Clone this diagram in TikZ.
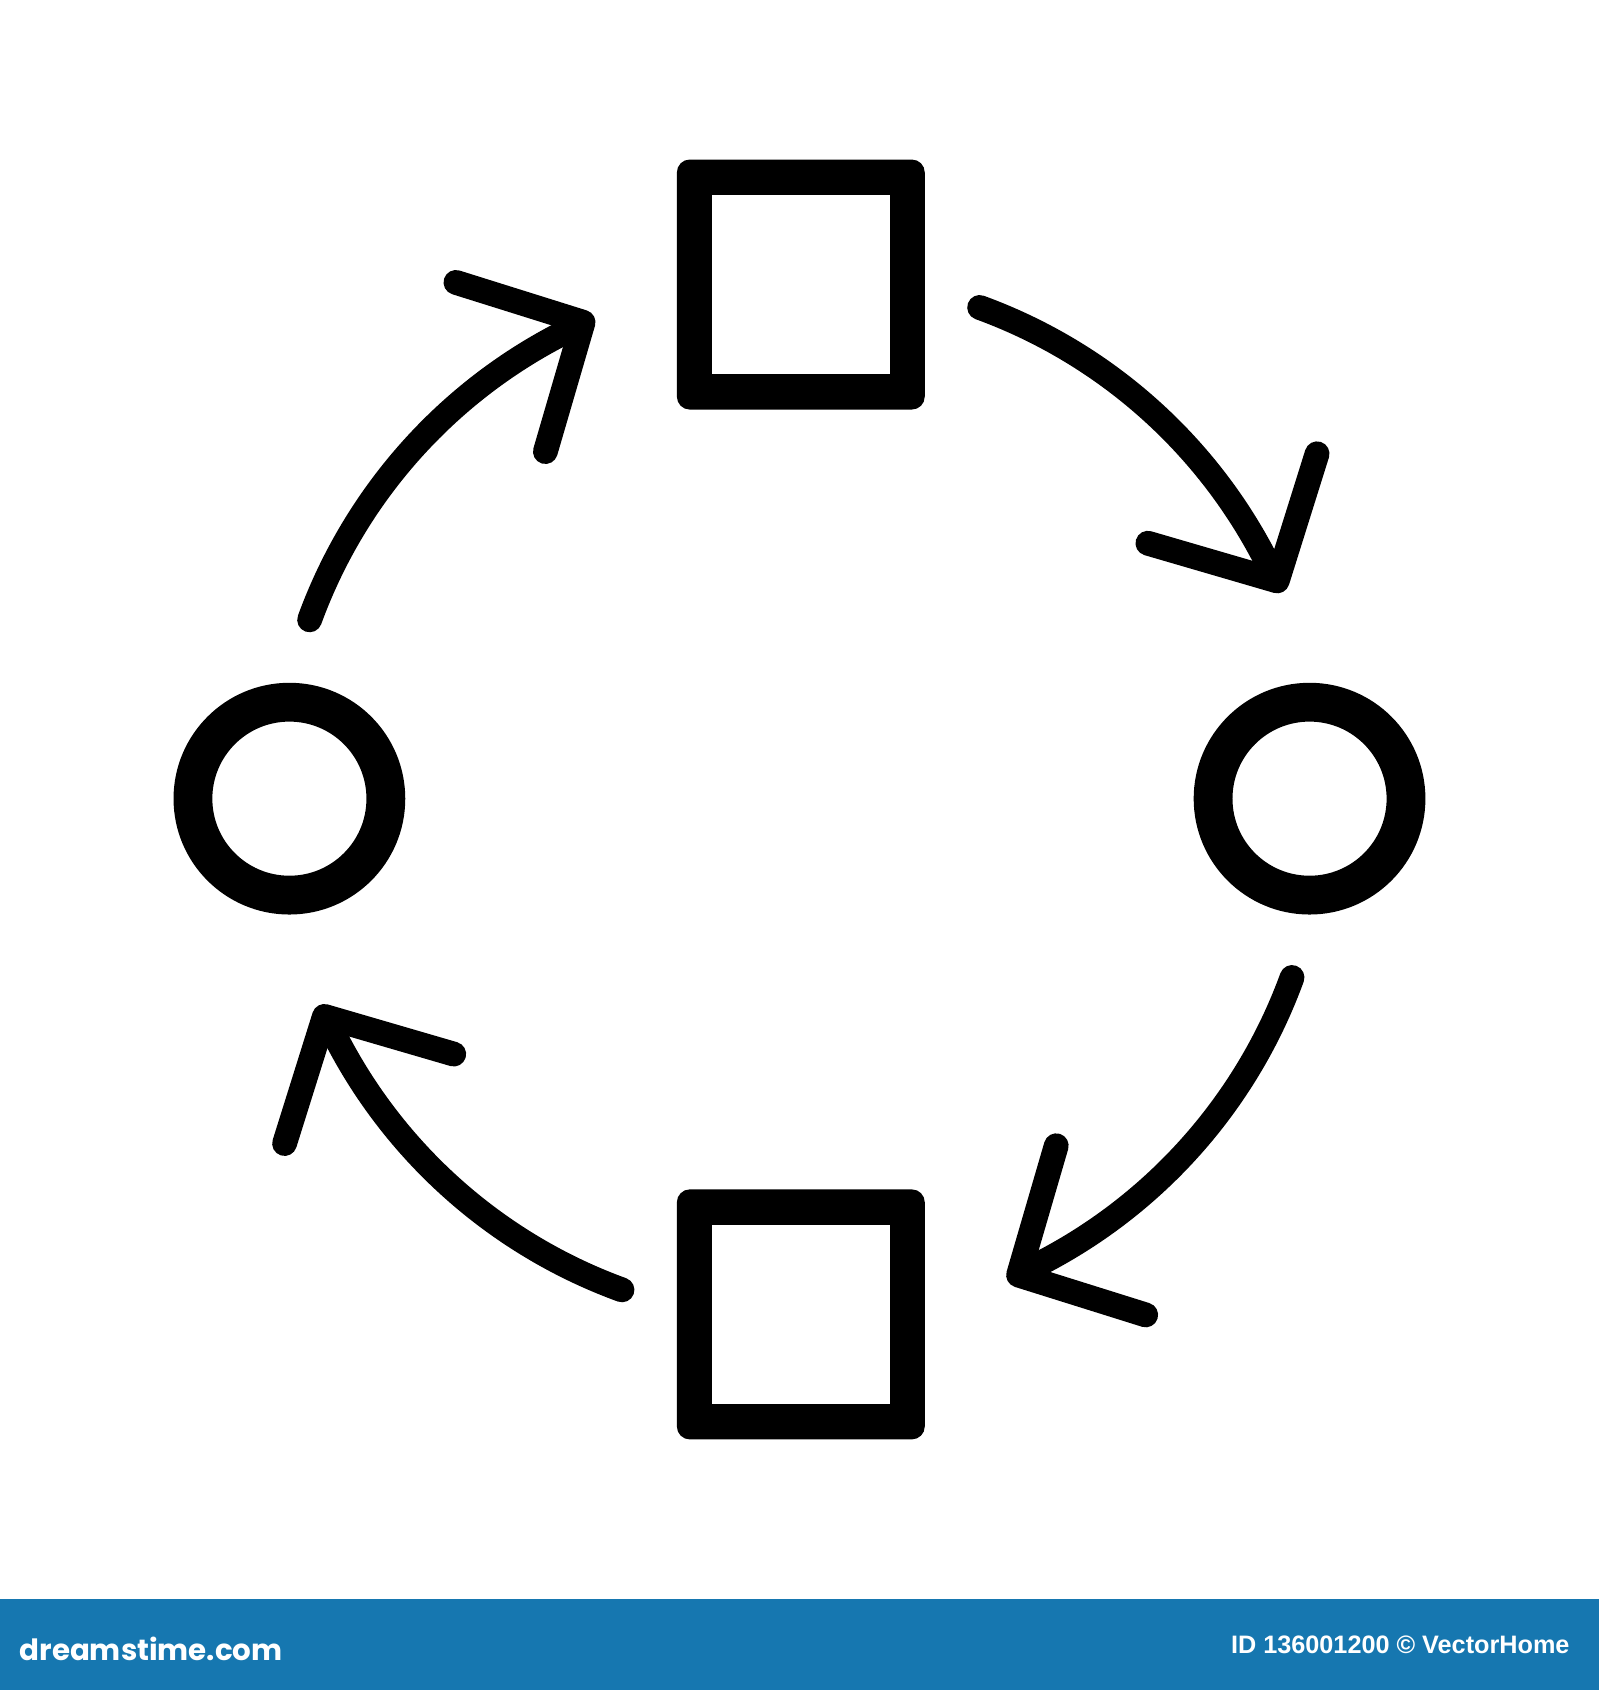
\documentclass[tikz,border=0pt]{standalone}
\usepackage{fontspec}
\newfontfamily\logofont{Poppins}
\newfontfamily\creditfont{Liberation Sans}
\definecolor{barblue}{RGB}{22,119,176}
\tikzset{
  sqbox/.style={fill=black, rounded corners=12, minimum width=230, minimum height=232, inner sep=0},
  ringnode/.style={circle, draw=black, line width=36, minimum size=179, inner sep=0},
  flowarc/.style={draw=black, line width=23, line cap=round, line join=round},
}
\begin{document}
\begin{tikzpicture}[x=1pt, y=-1pt]
\useasboundingbox (0,0) rectangle (1484,1568);
\fill[white] (0,0) rectangle (1484,1568);
% squares
\node[sqbox] (sqT) at (743,264) {};
\fill[white] ([shift={(33,33)}]sqT.north west) rectangle ([shift={(-32,-33)}]sqT.south east);
\node[sqbox] (sqB) at (743,1219.5) {};
\fill[white] ([shift={(33,33)}]sqB.north west) rectangle ([shift={(-32,-33)}]sqB.south east);
% circles
\node[ringnode] (cL) at (268.5,741) {};
\node[ringnode] (cR) at (1215,741) {};
% centre of the cycle
\coordinate (ctr) at (743,741);
% arrows
\begin{scope}[shift={(ctr)}, yscale=-1]
\foreach \k in {0,1,2,3}{
  \begin{scope}[rotate=-90*\k]
    \path[flowarc] (160:485) arc[start angle=160, end angle=115, radius=485];
    \path[flowarc] (-320,479) -- (-202,442) -- (-237,322);
  \end{scope}
}
\end{scope}
% bottom bar
\fill[barblue] (0,1484) rectangle (1484,1568);
\node[anchor=base west, inner sep=0, text=white] (logo) at (18,1541) {\resizebox{244pt}{!}{\logofont\bfseries dreamstime.com}};
\node[anchor=base west, inner sep=0, text=white] (credit) at (1142,1534) {\resizebox{314pt}{!}{\creditfont\bfseries ID 136001200 © VectorHome}};
\end{tikzpicture}
\end{document}
